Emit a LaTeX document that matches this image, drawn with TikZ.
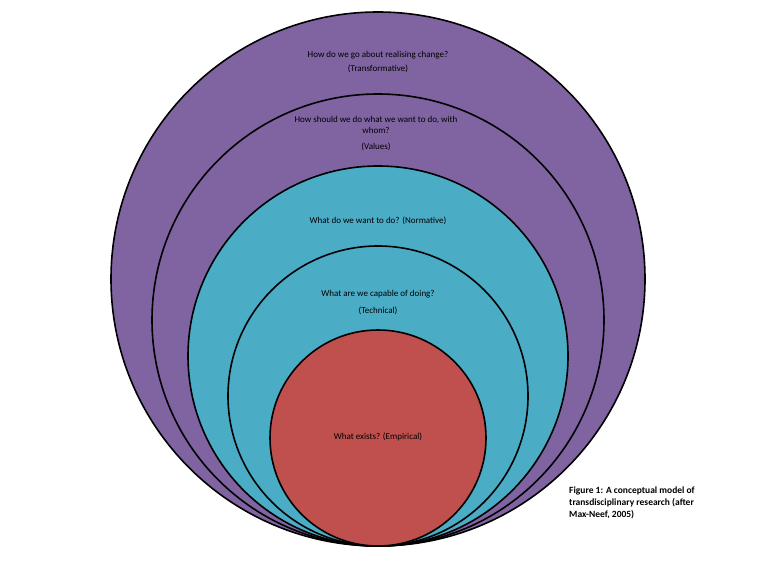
\documentclass[tikz,border=0pt]{standalone}
\usepackage{fontspec}
\setmainfont{Carlito}
\definecolor{purp}{HTML}{8064A2}
\definecolor{cyanc}{HTML}{4BACC6}
\definecolor{redc}{HTML}{C0504D}
\begin{document}
\begin{tikzpicture}[x=1pt,y=-1pt,
  ring/.style={draw=black,line width=1.6pt},
  lab/.style={font=\fontsize{9}{11}\selectfont,align=center,inner sep=0pt}]
\useasboundingbox[fill=white] (0,0) rectangle (768,569);
\fill[purp,ring] (378,279) circle (267);
\fill[purp,ring] (378,320) circle (226);
\fill[cyanc,ring] (378,356) circle (190);
\fill[cyanc,ring] (378,396) circle (150);
\fill[redc,ring] (378,438) circle (108);
\node[lab] (t1) at (378,62) {How do we go about realising change?\\[3pt](Transformative)};
\node[lab] (t2) at (376,134) {How should we do what we want to do, with\\whom?\\[5pt](Values)};
\node[lab] (t3) at (378,221) {What do we want to do? (Normative)};
\node[lab] (t4) at (378,302) {What are we capable of doing?\\[6pt](Technical)};
\node[lab] (t5) at (378,437) {What exists? (Empirical)};
\node[font=\fontsize{9.5}{12}\selectfont\bfseries,align=left,anchor=north west,inner sep=0pt] (cap) at (569,487)
  {Figure 1: A conceptual model of\\transdisciplinary research (after\\Max-Neef, 2005)};
\end{tikzpicture}
\end{document}
